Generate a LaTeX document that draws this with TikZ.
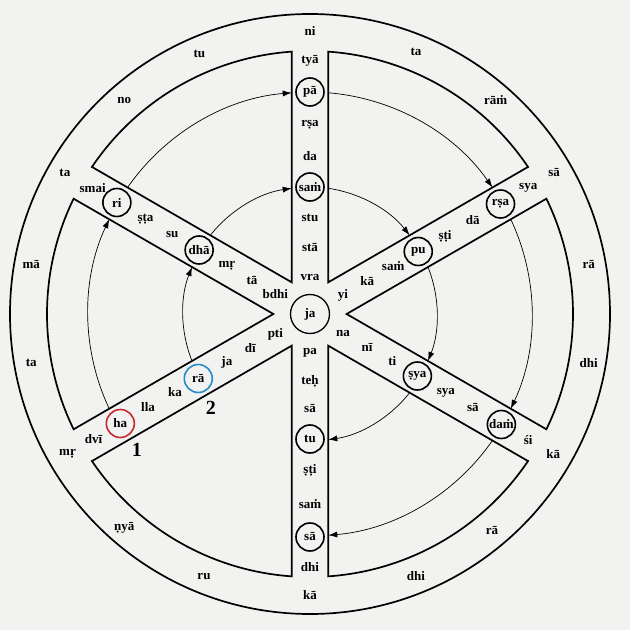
\documentclass[tikz,border=0pt]{standalone}
\usepackage{fontspec}
\setmainfont{Liberation Serif}
\usetikzlibrary{arrows.meta}
\definecolor{bgc}{RGB}{242,242,240}
\definecolor{hared}{RGB}{200,40,50}
\definecolor{rablue}{RGB}{40,140,200}
\begin{document}
\begin{tikzpicture}[x=1pt,y=1pt,
  font=\fontsize{13}{15}\selectfont\bfseries,
  rimline/.style={line width=1.7pt, line join=miter},
  lbl/.style={inner sep=0pt},
  cnode/.style={circle, draw, line width=1.6pt, minimum size=28pt, inner sep=0pt},
  hub/.style={circle, draw, line width=1.3pt, minimum size=39pt, inner sep=0pt},
  numlbl/.style={inner sep=0pt, font=\fontsize{20}{23}\selectfont\bfseries},
  arr/.style={line width=0.7pt, -{Latex[length=9pt,width=6pt]}}]
\fill[bgc] (-310,-316) rectangle (320,314);
\useasboundingbox (-310,-316) rectangle (320,314);
% outer circle
\draw[rimline] (0,0) circle[radius=300pt];
% wedges
\foreach \b in {60,0,-60,-120,180,120}{
  \draw[rimline] (\b:36.6) -- (\b-26:263) arc[start angle=\b-26, end angle=\b+26, radius=263pt] -- cycle;
}
% hub
\node[hub] (ja) at (0,0) {ja};
% spoke labels
\foreach \t/\r in {vra/37, stā/66, stu/96, da/158, rṣa/189, tyā/253, ni/283}
  \node[lbl] (u\r) at (90:\r) {\t};
\foreach \t/\r in {yi/38, kā/66, saṁ/96, ṣṭi/156, dā/188, sya/252, sā/282}
  \node[lbl] (ur\r) at (30:\r) {\t};
\foreach \t/\r in {na/38, nī/66, ti/95, sya/157, sā/188, śi/252, kā/281}
  \node[lbl] (dr\r) at (-30:\r) {\t};
\foreach \t/\r in {pa/39, teḥ/67, sā/95, ṣṭi/156, saṁ/190, dhi/253, kā/281}
  \node[lbl] (d\r) at (-90:\r) {\t};
\foreach \t/\r in {pti/40, dī/69, ja/96, ka/156, lla/187, dvī/250, mṛ/280}
  \node[lbl] (dl\r) at (210:\r) {\t};
\foreach \t/\r in {bdhi/40, tā/67, mṛ/96, su/159, ṣṭa/190, smai/251, ta/283}
  \node[lbl] (ul\r) at (150:\r) {\t};
% rim labels
\foreach \t/\a [count=\k] in {ta/68, rāṁ/49, rā/10, dhi/-10, rā/-50, dhi/-68, ru/-112, ṇyā/-131, ta/-170, mā/170, no/131, tu/113}
  \node[lbl] (rim\k) at (\a:283) {\t};
% circled syllables
\node[cnode] (pa1) at (90:222) {pā};
\node[cnode] (sam1) at (90:127) {saṁ};
\node[cnode] (rsa1) at (30:220) {rṣa};
\node[cnode] (pu1) at (30:125) {pu};
\node[cnode] (dam1) at (-30:221) {daṁ};
\node[cnode] (sya1) at (-30:124) {ṣya};
\node[cnode] (sa1) at (-90:223) {sā};
\node[cnode] (tu1) at (-90:125) {tu};
\node[cnode, draw=hared] (ha1) at (210:219) {ha};
\node[cnode, draw=rablue] (ra1) at (210:129) {rā};
\node[cnode] (ri1) at (150:223) {ri};
\node[cnode] (dha1) at (150:128) {dhā};
% numbers
\node[numlbl] (one) at (-173,-136) {1};
\node[numlbl] (two) at (-99,-94) {2};
% arrow end points on the channel edges
\coordinate (a1s) at (205.27:222); \coordinate (a1e) at (154.73:222);
\coordinate (a2s) at (145.27:222); \coordinate (a2e) at (94.73:222);
\coordinate (a3s) at (85.27:222);  \coordinate (a3e) at (34.73:222);
\coordinate (a4s) at (25.27:222);  \coordinate (a4e) at (-25.27:222);
\coordinate (a5s) at (-34.73:222); \coordinate (a5e) at (-85.27:222);
\coordinate (b1s) at (201.71:127); \coordinate (b1e) at (158.29:127);
\coordinate (b2s) at (141.71:127); \coordinate (b2e) at (98.29:127);
\coordinate (b3s) at (81.71:127);  \coordinate (b3e) at (38.29:127);
\coordinate (b4s) at (21.71:127);  \coordinate (b4e) at (-21.71:127);
\coordinate (b5s) at (-38.29:127); \coordinate (b5e) at (-81.71:127);
\foreach \i in {1,...,5}{
  \draw[arr] (a\i s) to[bend left=25.27, looseness=0.894] (a\i e);
  \draw[arr] (b\i s) to[bend left=21.71, looseness=0.883] (b\i e);
}
\end{tikzpicture}
\end{document}
